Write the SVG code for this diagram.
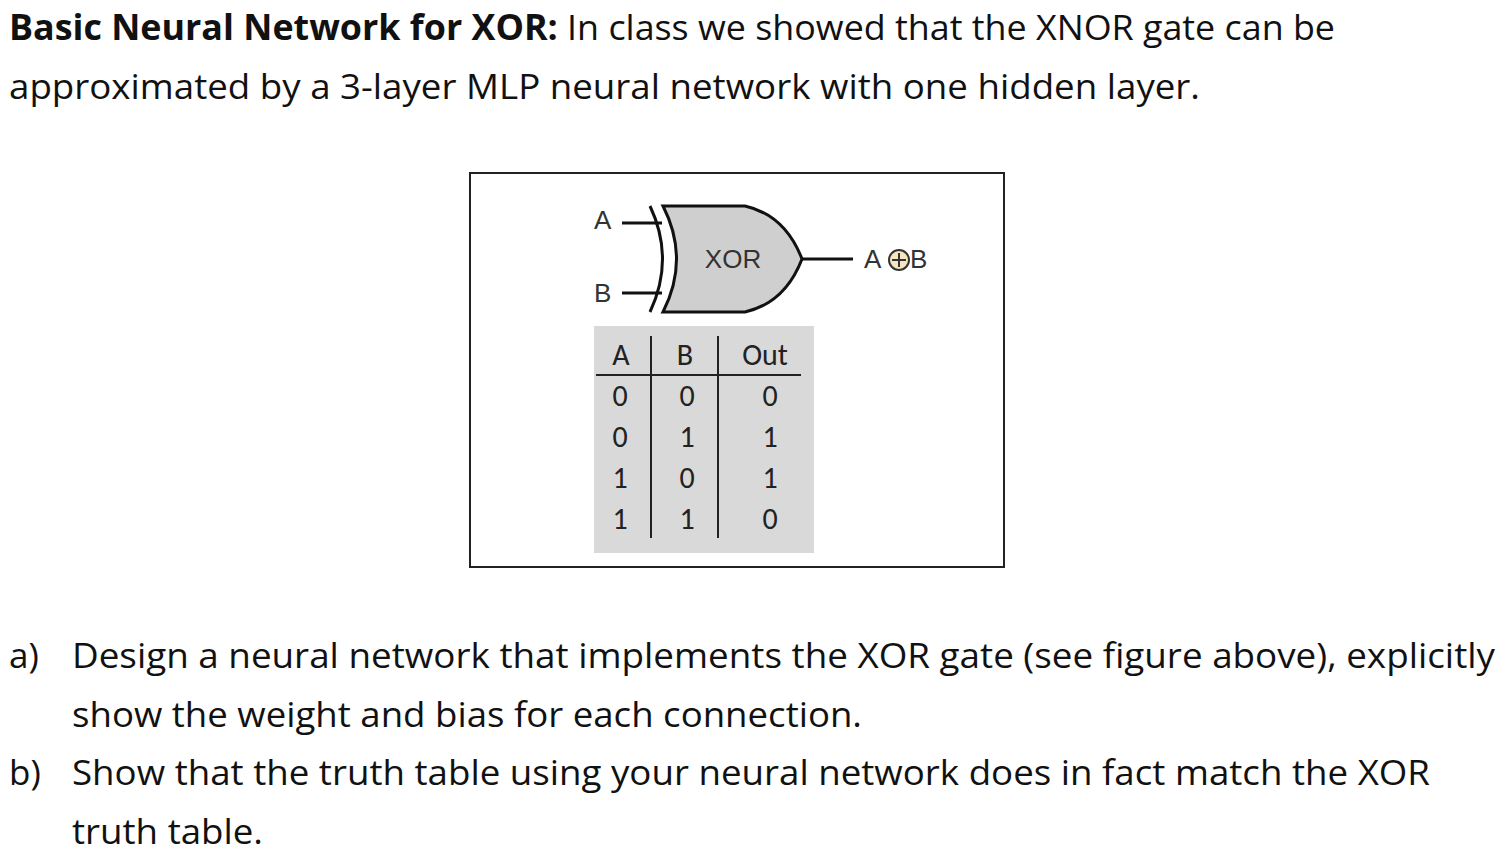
<svg xmlns="http://www.w3.org/2000/svg" width="1506" height="868" viewBox="0 0 1506 868">
<style>
.t{font-family:"Open Sans","Noto Sans","Liberation Sans",sans-serif;font-size:35px;fill:#111}
.g{font-family:"Liberation Sans",Arial,sans-serif;font-size:26px;fill:#333}
.w{stroke:#111;stroke-width:3;fill:none}
</style>
<rect width="1506" height="868" fill="#fff"/>
<text class="t" x="9" y="40" textLength="1326" lengthAdjust="spacingAndGlyphs"><tspan font-weight="bold">Basic Neural Network for XOR:</tspan> In class we showed that the XNOR gate can be</text>
<text class="t" x="9" y="99" textLength="1191" lengthAdjust="spacingAndGlyphs">approximated by a 3-layer MLP neural network with one hidden layer.</text>
<rect x="470" y="173" width="534" height="394" fill="#fff" stroke="#222" stroke-width="2"/>
<g id="gate">
<text class="g" x="594" y="229">A</text>
<text class="g" x="594" y="302">B</text>
<line class="w" x1="622" y1="223" x2="662" y2="223"/>
<line class="w" x1="622" y1="293" x2="662" y2="293"/>
<path d="M650 206 Q675 259 650 312" stroke="#111" stroke-width="3" fill="none"/>
<path d="M663 206 L745 206 Q785 215 802 259 Q785 303 745 312 L663 312 Q690 259 663 206 Z" fill="#cfcfcf" stroke="#111" stroke-width="3"/>
<text class="g" x="733" y="268" text-anchor="middle">XOR</text>
<line class="w" x1="802" y1="259" x2="853" y2="259"/>
<text class="g" x="864" y="268">A</text>
<circle cx="899" cy="260" r="10" fill="#f5e6c0" stroke="#333" stroke-width="2"/>
<line x1="892" y1="260" x2="906" y2="260" stroke="#333" stroke-width="2"/>
<line x1="899" y1="253" x2="899" y2="267" stroke="#333" stroke-width="2"/>
<text class="g" x="910" y="268">B</text>
</g>
<g id="table" font-family="Calibri,Carlito,'Liberation Sans',sans-serif">
<rect x="594" y="326" width="220" height="227" fill="#d9d9d9"/>
<line x1="596" y1="375" x2="801" y2="375" stroke="#222" stroke-width="2"/>
<line x1="651" y1="336" x2="651" y2="538" stroke="#222" stroke-width="2"/>
<line x1="718" y1="336" x2="718" y2="538" stroke="#222" stroke-width="2"/>
<g font-size="30" fill="#222" text-anchor="middle">
<text x="621" y="365">A</text><text x="685" y="365">B</text><text x="765" y="365">Out</text>
<text x="620" y="406">0</text><text x="687" y="406">0</text><text x="770" y="406">0</text>
<text x="620" y="447">0</text><text x="687" y="447">1</text><text x="770" y="447">1</text>
<text x="620" y="488">1</text><text x="687" y="488">0</text><text x="770" y="488">1</text>
<text x="620" y="529">1</text><text x="687" y="529">1</text><text x="770" y="529">0</text>
</g>
</g>
<text class="t" x="9" y="668">a)</text>
<text class="t" x="72" y="668" textLength="1423" lengthAdjust="spacingAndGlyphs">Design a neural network that implements the XOR gate (see figure above), explicitly</text>
<text class="t" x="72" y="727" textLength="790" lengthAdjust="spacingAndGlyphs">show the weight and bias for each connection.</text>
<text class="t" x="9" y="785">b)</text>
<text class="t" x="72" y="785" textLength="1358" lengthAdjust="spacingAndGlyphs">Show that the truth table using your neural network does in fact match the XOR</text>
<text class="t" x="72" y="844" textLength="191" lengthAdjust="spacingAndGlyphs">truth table.</text>
</svg>
